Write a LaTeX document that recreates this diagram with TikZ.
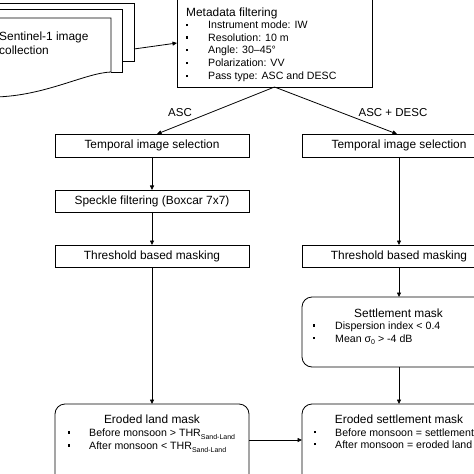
\documentclass[tikz,border=0pt]{standalone}
\usepackage{fontspec}
\setmainfont{Liberation Sans}
\usetikzlibrary{arrows.meta,calc}
\newcommand\fsT{\fontsize{11.9bp}{14bp}\selectfont}
\newcommand\fsB{\fontsize{10.6bp}{12.5bp}\selectfont}
\newcommand\fsL{\fontsize{11.5bp}{13bp}\selectfont}
\newcommand\mysub[1]{\raisebox{-2.6bp}{\fontsize{7bp}{8bp}\selectfont #1}}
\newcommand\sqb{\rule[2.9bp]{2.2bp}{2.2bp}}
\tikzset{
  box/.style={draw, line width=0.8bp, inner sep=0pt, outer sep=0pt, fill=white, font=\fsT},
  rbox/.style={box, rounded corners=10bp},
  ttl/.style={font=\fsT, inner sep=0pt, anchor=base},
  ttlw/.style={font=\fsT, inner sep=0pt, anchor=base west},
  itm/.style={font=\fsB, inner sep=0pt, anchor=base west},
  bul/.style={font=\fsB, inner sep=0pt, anchor=base},
  lbl/.style={font=\fsL, inner sep=0pt},
  arr/.style={draw, line width=0.8bp, -{Triangle[length=4.5bp,width=4bp]}},
  ln/.style={draw, line width=0.8bp},
}
\begin{document}
\begin{tikzpicture}[x=1bp,y=-1bp]
\useasboundingbox (0,0) rectangle (474,474);
% stacked documents
\draw[ln, fill=white] (-5,3) -- (134,3) -- (134,61) -- (122,61);
\draw[ln, fill=white] (-5,9) -- (122,9) -- (122,72) -- (111,72);
\draw[ln, fill=white] (-5,18) -- (111,18) -- (111,72) .. controls (85,73) and (45,96) .. (-5,97);
\coordinate (docs) at (134,49);
\node[ttlw, anchor=base west] (s1a) at (-1,41) {Sentinel-1 image};
\node[ttlw, anchor=base west] (s1b) at (-1,55) {collection};
% metadata
\node[box, minimum width=195bp, minimum height=92bp] (meta) at (274.5,41) {};
\node[ttlw] (mt) at (186,16.5) {Metadata filtering};
\foreach \y/\t [count=\i] in {29/{Instrument mode: IW},41.5/{Resolution: 10 m},54/{Angle: 30–45°},67/{Polarization: VV},80/{Pass type: ASC and DESC}}{
  \node[bul] (mb\i) at (187,\y) {\sqb};
  \node[itm] (mi\i) at (208,\y) {\t};
}
\draw[arr] (docs) -- ($(meta.west)+(0,2)$);
% left column
\node[box, minimum width=194bp, minimum height=23bp] (tl) at (152,145.5) {Temporal image selection};
\node[box, minimum width=194bp, minimum height=22bp] (sp) at (152,201) {Speckle filtering (Boxcar 7x7)};
\node[box, minimum width=194bp, minimum height=22bp] (thl) at (152,256) {Threshold  based masking};
\node[rbox, minimum width=194bp, minimum height=80bp] (el) at (152,444) {};
\node[ttl] (elt) at (152,423.5) {Eroded land mask};
\node[bul] (elb1) at (69,436.5) {\sqb};
\node[itm] (eli1) at (89,436.5) {Before monsoon > THR\mysub{Sand-Land}};
\node[bul] (elb2) at (69,449.5) {\sqb};
\node[itm] (eli2) at (89,449.5) {After monsoon < THR\mysub{Sand-Land}};
% right column
\node[box, minimum width=194bp, minimum height=23bp] (tr) at (399,145.5) {Temporal image selection};
\node[box, minimum width=194bp, minimum height=22bp] (thr) at (399,256) {Threshold  based masking};
\node[rbox, minimum width=194bp, minimum height=70bp] (sm) at (399,332) {};
\node[ttl] (smt) at (398.5,317) {Settlement  mask};
\node[bul] (smb1) at (314,329.5) {\sqb};
\node[itm] (smi1) at (335,329.5) {Dispersion index  < 0.4};
\node[bul] (smb2) at (314,342) {\sqb};
\node[itm] (smi2) at (335,342) {Mean σ\mysub{0} > -4 dB};
\node[rbox, minimum width=194bp, minimum height=80bp] (es) at (399,444) {};
\node[ttl] (est) at (399,423.5) {Eroded settlement  mask};
\node[bul] (esb1) at (315,436) {\sqb};
\node[itm] (esi1) at (335,436) {Before monsoon = settlement};
\node[bul] (esb2) at (315,448) {\sqb};
\node[itm] (esi2) at (335,448) {After monsoon = eroded land};
% connectors
\draw[arr] (meta.south) -- ($(tl.north)+(5,0)$);
\draw[arr] (meta.south) -- ($(tr.north)+(-2,0)$);
\node[lbl] (asc) at (180,113) {ASC};
\node[lbl] (ascd) at (393,113) {ASC + DESC};
\draw[arr] (tl) -- (sp);
\draw[arr] (sp) -- (thl);
\draw[arr] (thl) -- (el);
\draw[arr] (tr) -- (thr);
\draw[arr] (thr) -- (sm);
\draw[arr] (sm) -- (es);
\draw[arr] (el.east |- 0,440) -- (es.west |- 0,440);
\end{tikzpicture}
\end{document}
